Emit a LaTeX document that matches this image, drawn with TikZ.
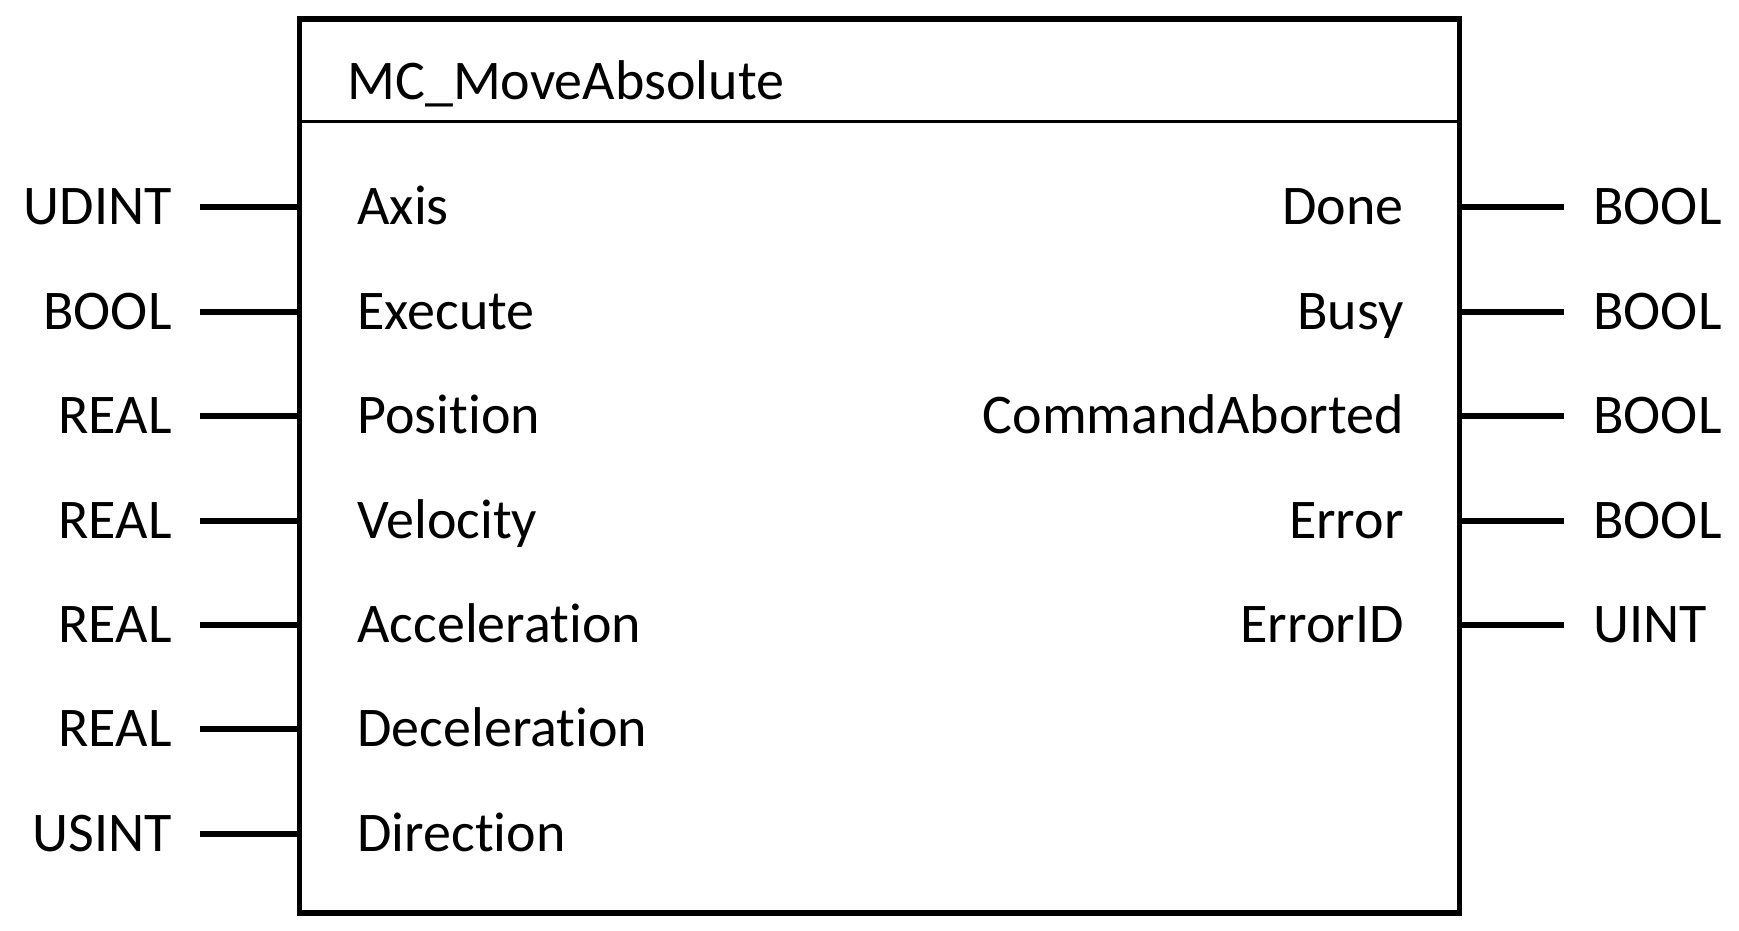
\documentclass[tikz,border=0pt]{standalone}
\usepackage{fontspec}
\setmainfont{Carlito}[Ligatures=NoCommon]
\begin{document}
\begin{tikzpicture}[x=0.5pt, y=-0.5pt,
	txt/.style={inner sep=0pt, font=\fontsize{28}{33}\selectfont},
	pinline/.style={line width=3pt}]
	\useasboundingbox (0, 0) rectangle (1739, 931);

	% function block
	\node[draw, line width=2.7pt, minimum width=580pt, minimum height=447pt, inner sep=0pt] (fb) at (879.5, 466) {};
	\draw[line width=1.5pt] (299.5, 122) -- (1459.5, 122);
	\node[txt, anchor=base west] (title) at (347, 100) {MC\_MoveAbsolute};

	% inputs
	\foreach \name/\type [count=\i from 0] in {Axis/UDINT, Execute/BOOL, Position/REAL, Velocity/REAL, Acceleration/REAL, Deceleration/REAL, Direction/USINT} {
		\node[txt, anchor=base west] (in-\i) at (357, 207.4 + 104.4*\i + 17.5) {\name};
		\node[txt, anchor=base east] (in-type-\i) at (172, 207.4 + 104.4*\i + 17.5) {\type};
		\coordinate (in-end-\i) at (200, 207.4 + 104.4*\i);
		\draw[pinline] (in-end-\i) -- (fb.west |- in-end-\i);
	}

	% outputs
	\foreach \name/\type [count=\i from 0] in {Done/BOOL, Busy/BOOL, CommandAborted/BOOL, Error/BOOL, ErrorID/UINT} {
		\node[txt, anchor=base east] (out-\i) at (1404, 207.4 + 104.4*\i + 17.5) {\name};
		\node[txt, anchor=base west] (out-type-\i) at (1593, 207.4 + 104.4*\i + 17.5) {\type};
		\coordinate (out-end-\i) at (1564, 207.4 + 104.4*\i);
		\draw[pinline] (fb.east |- out-end-\i) -- (out-end-\i);
	}
\end{tikzpicture}
\end{document}
